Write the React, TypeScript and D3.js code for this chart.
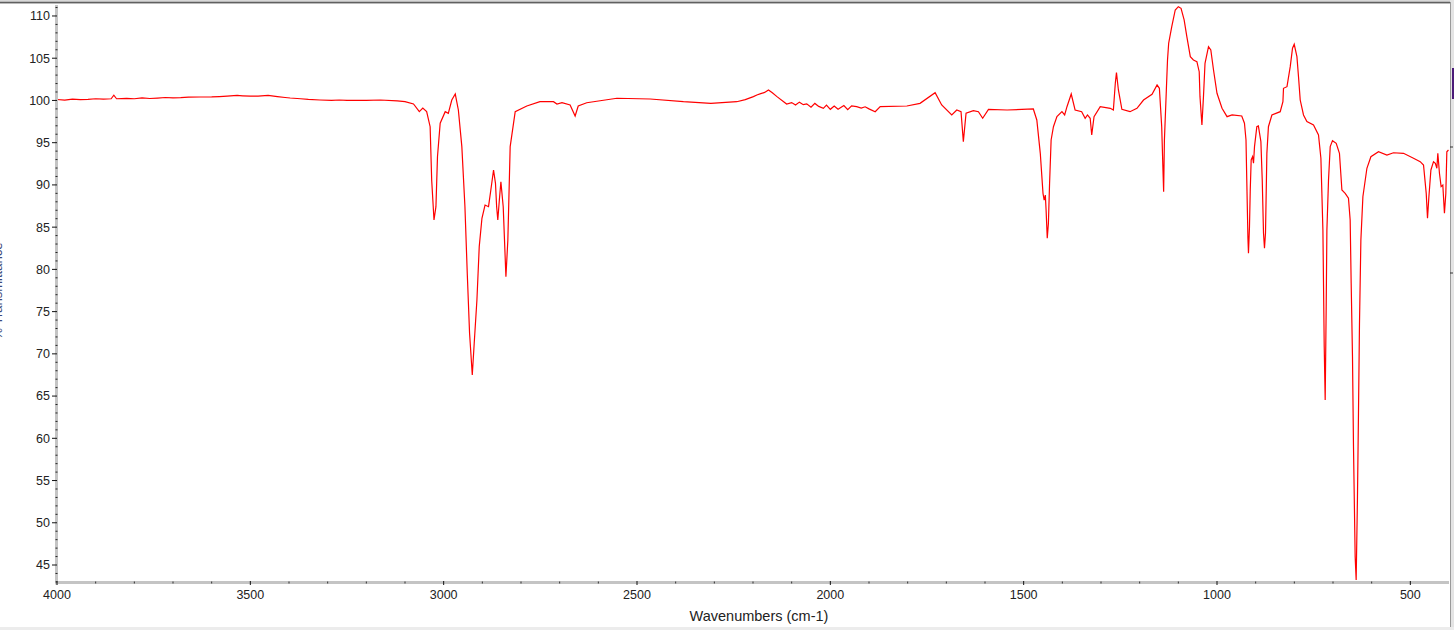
import React from "react";
import * as d3 from "d3";

const wavenumbers: number[] = [
  4000, 3980, 3960, 3940, 3920, 3900, 3880, 3860, 3853, 3846, 3820, 3800, 3780, 3760, 3740, 3720,
  3700, 3680, 3660, 3630, 3600, 3580, 3560, 3534, 3520, 3500, 3480, 3454, 3430, 3410, 3397, 3370,
  3350, 3320, 3290, 3270, 3250, 3200, 3164, 3120, 3100,
  3078, 3063, 3054, 3044, 3035, 3031, 3025, 3020, 3016, 3009, 2996, 2988, 2979, 2970, 2962, 2953,
  2945, 2939, 2933, 2926, 2921, 2914, 2908, 2901, 2893, 2884, 2878, 2871, 2866, 2863, 2860, 2856,
  2852, 2846, 2839, 2834, 2828, 2815, 2785, 2751, 2716, 2707, 2694, 2673, 2660, 2652, 2630, 2552,
  2466, 2380, 2309, 2242, 2220, 2199, 2190, 2180, 2170, 2160, 2150, 2138, 2113, 2100, 2090, 2080,
  2070, 2061, 2050, 2040, 2030, 2018, 2010, 2000, 1990, 1980, 1975, 1965, 1955, 1945, 1932, 1920,
  1910, 1900, 1884, 1871, 1802, 1768, 1729, 1712, 1686, 1673, 1662, 1656, 1649, 1630, 1617, 1606,
  1591, 1543, 1475, 1466, 1457, 1450, 1447, 1444, 1442, 1439, 1436, 1433, 1429, 1423, 1414, 1401,
  1394, 1388, 1377, 1367, 1350, 1341, 1335, 1328, 1324, 1318, 1302, 1276, 1268, 1263, 1260, 1255,
  1246, 1225, 1207, 1190, 1168, 1155, 1149, 1143, 1140, 1138, 1136, 1131, 1128, 1125, 1117, 1108,
  1100, 1093, 1085, 1078, 1069, 1061, 1052, 1046, 1044, 1039, 1035, 1031, 1022, 1016, 1009, 1000,
  987, 974, 961, 936, 929, 925, 923, 920, 918.6, 916, 914, 911.6, 908, 905.6, 903, 897,
  893, 886.5, 883, 879.7, 877.2, 874.6, 871, 867, 858, 836.5, 829.5, 828, 819, 810.6,
  804.7, 800.3, 793.3, 789.2, 784.8, 776.3, 767.5, 750.4, 737.5, 731.3, 726.1, 722.7, 720.2, 717.6,
  715.8, 711.6, 707.2, 701.3, 691.7, 683.3, 677, 668.5, 660, 655.6, 653, 649.6, 647, 642.7,
  640.1, 636.7, 634.1, 631.5, 627.9, 622.7, 612.3, 602, 582.3, 560.6, 543.6, 517.7, 491.8, 474.5,
  465.9, 458.9, 455.6, 452, 446.8, 440.1, 435.3, 431.4, 428.9, 424.7, 420.4, 416, 411.8, 408.2,
  405.6, 401.4,
];

const transmittance: number[] = [
  100.11, 100.05, 100.15, 100.1, 100.12, 100.2, 100.15, 100.2, 100.62, 100.2, 100.25, 100.2, 100.3, 100.23, 100.28, 100.35,
  100.3, 100.33, 100.4, 100.41, 100.42, 100.45, 100.5, 100.59, 100.55, 100.5, 100.52, 100.59, 100.45, 100.35, 100.29, 100.2,
  100.12, 100.05, 100.0, 100.05, 100.02, 100.0, 100.05, 99.95, 99.85,
  99.58, 98.67, 99.1, 98.67, 96.89, 90.58, 85.85, 87.42, 93.34, 97.3, 98.67, 98.48, 100.05, 100.76, 98.87, 94.53,
  87.42, 79.54, 72.43, 67.5, 71.25, 76.37, 82.69, 86.05, 87.62, 87.42, 89.4, 91.77, 90.19, 87.42, 85.85, 88.21,
  90.38, 87.42, 79.13, 83.48, 94.53, 98.67, 99.34, 99.85, 99.85, 99.58, 99.73, 99.46, 98.16, 99.34, 99.73, 100.26,
  100.17, 99.85, 99.66, 99.85, 100.1, 100.45, 100.65, 100.8, 100.95, 101.24, 100.9, 100.45, 99.58, 99.75, 99.45, 99.8,
  99.5, 99.6, 99.2, 99.65, 99.3, 99.07, 99.45, 98.95, 99.35, 98.95, 99.1, 99.4, 98.9, 99.35, 99.26, 99.1,
  99.25, 99.0, 98.67, 99.26, 99.34, 99.66, 100.92, 99.46, 98.28, 98.87, 98.67, 95.12, 98.48, 98.79, 98.67, 97.89,
  98.95, 98.87, 98.99, 97.69, 93.74, 89.0, 88.21, 88.8, 87.03, 83.68, 85.46, 90.19, 95.32, 96.89, 98.08, 98.67,
  98.28, 99.26, 100.76, 98.87, 98.67, 97.89, 98.28, 97.89, 95.91, 98.08, 99.26, 99.07, 98.87, 102.03, 103.29, 101.24,
  98.95, 98.67, 99.07, 100.05, 100.73, 101.83, 101.44, 96.89, 92.16, 89.2, 95.32, 101.24, 104.79, 106.77, 108.73, 110.71,
  111.1, 110.91, 109.53, 107.55, 105.18, 104.79, 104.59, 103.4, 100.45, 97.1, 100.45, 104.4, 106.37, 105.97, 103.6, 100.85,
  99.07, 98.08, 98.28, 98.16, 97.3, 95.32, 90.58, 83.68, 81.9, 85.05, 89.4, 92.95, 93.34, 92.56, 94.53, 96.89,
  96.98, 95.12, 90.58, 84.27, 82.5, 84.27, 93.74, 96.89, 98.28, 98.67, 99.85, 101.44, 101.63, 104.0,
  106.18, 106.65, 105.18, 102.81, 100.05, 98.28, 97.49, 97.1, 95.91, 93.15, 84.66, 70.85, 64.53, 75.58,
  84.66, 90.58, 94.53, 95.24, 94.93, 93.74, 89.4, 89.0, 88.42, 85.85, 78.35, 69.66, 59.0, 45.98,
  43.22, 53.09, 62.96, 73.62, 83.48, 88.6, 91.97, 93.34, 93.93, 93.54, 93.81, 93.74, 93.15, 92.75,
  92.36, 89.0, 86.05, 88.6, 91.77, 92.75, 92.56, 91.97, 93.74, 91.38, 89.8, 89.99, 86.64, 89.0,
  93.93, 94.13,
];

const xMajorTicks: number[] = [4000, 3500, 3000, 2500, 2000, 1500, 1000, 500];
const yMajorTicks: number[] = [45, 50, 55, 60, 65, 70, 75, 80, 85, 90, 95, 100, 105, 110];
const xLabel = "Wavenumbers (cm-1)";
const yLabel = "% Transmittance";

const W = 1454;
const H = 630;
const L = 57;
const R = 1449;
const T = 5;
const B = 583;

export default function App() {
  const x = d3.scaleLinear().domain([4000, 400]).range([L, R]);
  const y = d3.scaleLinear().domain([42.87, 111.3]).range([B, T]);

  const n = Math.min(wavenumbers.length, transmittance.length);
  const pts = wavenumbers.slice(0, n).map((w, i) => [w, transmittance[i]] as [number, number]);
  const line = d3
    .line<[number, number]>()
    .x((d) => x(d[0]))
    .y((d) => y(d[1]));

  const xMinor = d3.range(3900, 400, -100).filter((v) => v % 500 !== 0);
  const yMinor = d3.range(43, 112, 1).filter((v) => v % 5 !== 0 && v <= 111);

  const font = "Arial, 'Liberation Sans', sans-serif";

  return (
    <svg
      width={W}
      height={H}
      style={{ position: "absolute", left: 0, top: 0, background: "#fff" }}
    >
      <defs>
        <clipPath id="plotclip">
          <rect x={L} y={T} width={R - L} height={B - T} />
        </clipPath>
      </defs>
      <rect x={0} y={0} width={W} height={H} fill="#fff" />
      {/* top frame */}
      <rect x={0} y={0} width={W} height={4} fill="#d8d8d8" />
      <line x1={0} x2={1451} y1={2.5} y2={2.5} stroke="#606060" strokeWidth={1.5} />
      {/* right frame */}
      <rect x={1450} y={0} width={4} height={H} fill="#e4e4e4" />
      <line x1={1450.5} x2={1450.5} y1={2} y2={628} stroke="#9a9a9a" strokeWidth={1} />
      <rect x={1452} y={68} width={2} height={31} fill="#4b1a78" />
      <line x1={1450} x2={1453} y1={147} y2={147} stroke="#333" strokeWidth={1} />
      <line x1={1450} x2={1453} y1={273} y2={273} stroke="#333" strokeWidth={1} />
      {/* bottom strip */}
      <rect x={0} y={627} width={W} height={3} fill="#ececec" />

      {/* spectrum */}
      <path
        d={line(pts) || ""}
        fill="none"
        stroke="#ff0000"
        strokeWidth={1.2}
        clipPath="url(#plotclip)"
      />

      {/* axes */}
      <line x1={56.5} x2={56.5} y1={T} y2={B + 1.5} stroke="#c4c4c4" strokeWidth={3} />
      <line x1={55} x2={R} y1={582.5} y2={582.5} stroke="#c4c4c4" strokeWidth={3} />

      {yMajorTicks.map((v) => (
        <g key={"ym" + v}>
          <line x1={52} x2={57} y1={y(v)} y2={y(v)} stroke="#111" strokeWidth={1} />
          <text
            x={50}
            y={y(v)}
            dy="0.35em"
            textAnchor="end"
            fontFamily={font}
            fontSize={12.5}
            fill="#222"
          >
            {v}
          </text>
        </g>
      ))}
      {yMinor.map((v) => (
        <line key={"yn" + v} x1={55.5} x2={57.5} y1={y(v)} y2={y(v)} stroke="#222" strokeWidth={1} />
      ))}

      {xMajorTicks.map((v) => (
        <g key={"xm" + v}>
          <line x1={x(v)} x2={x(v)} y1={581} y2={585} stroke="#111" strokeWidth={1} />
          <text
            x={x(v)}
            y={599}
            textAnchor="middle"
            fontFamily={font}
            fontSize={12.5}
            fill="#222"
          >
            {v}
          </text>
        </g>
      ))}
      {xMinor.map((v) => (
        <line key={"xn" + v} x1={x(v)} x2={x(v)} y1={581.5} y2={583.5} stroke="#333" strokeWidth={1} />
      ))}

      <text
        x={759}
        y={621}
        textAnchor="middle"
        fontFamily={font}
        fontSize={14.5}
        fill="#222"
      >
        {xLabel}
      </text>
      <text
        transform="translate(2,291) rotate(-90)"
        textAnchor="middle"
        fontFamily={font}
        fontSize={13}
        fill="#3a4a7a"
      >
        {yLabel}
      </text>
    </svg>
  );
}
